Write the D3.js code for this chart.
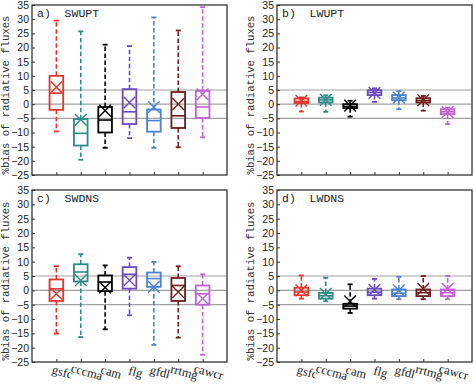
<!DOCTYPE html>
<html><head><meta charset="utf-8">
<script src="https://cdn.jsdelivr.net/npm/d3@7"></script>
<style>body{margin:0;background:#fff}svg{display:block}</style>
</head><body>
<script>
const categories = ["gsfc","cccma","cam","flg","gfdl","rrtmg","cawcr"];
const colors = ["#e5342b","#2c8a84","#000000","#6a4ac0","#4a82cc","#6e1c1c","#c35fd6"];
const yTicks = [-25,-20,-15,-10,-5,0,5,10,15,20,25,30,35];
const refLines = [-5,0,5];

// SWUPT
const swuptLow  = [-9.6,-19.6,-15.4,-12.0,-15.4,-15.2,-11.7];
const swuptQ1   = [-2.0,-14.6,-10.0,-7.0,-9.7,-8.4,-4.9];
const swuptMed  = [3.9,-10.3,-5.6,-2.7,-5.8,-4.1,-1.0];
const swuptQ3   = [10.0,-5.3,-1.0,5.3,-1.9,4.3,4.7];
const swuptHigh = [29.5,25.7,21.0,20.5,30.6,26.0,34.2];
const swuptMean = [6.0,-5.5,-2.3,0.6,-1.0,0.0,3.5];
// LWUPT
const lwuptLow  = [-2.6,-2.7,-4.4,0.8,-1.8,-2.3,-7.0];
const lwuptQ1   = [0.4,0.6,-1.4,3.2,1.4,0.6,-3.5];
const lwuptMed  = [1.0,1.5,-0.8,4.1,2.2,1.3,-2.7];
const lwuptQ3   = [2.0,2.3,0.0,4.9,3.2,2.1,-1.8];
const lwuptHigh = [2.4,3.1,1.2,5.6,4.6,2.9,-1.2];
const lwuptMean = [1.2,1.5,-0.5,4.0,2.3,1.4,-2.8];
// SWDNS
const swdnsLow  = [-15.1,-16.3,-13.6,-8.7,-19.0,-16.5,-22.5];
const swdnsQ1   = [-3.7,3.1,-0.3,0.6,1.2,-3.7,-5.0];
const swdnsMed  = [0.5,6.4,2.9,5.6,4.1,1.7,-1.2];
const swdnsQ3   = [3.8,9.1,5.2,8.1,6.2,4.3,1.7];
const swdnsHigh = [8.4,12.6,8.7,11.4,9.9,8.4,5.6];
const swdnsMean = [-1.2,3.5,1.0,3.5,1.2,-0.6,-2.9];
// LWDNS
const lwdnsLow  = [-2.9,-3.8,-7.9,-2.9,-3.1,-3.1,-3.1];
const lwdnsQ1   = [-1.7,-2.9,-6.4,-1.7,-2.0,-2.0,-2.0];
const lwdnsMed  = [-0.6,-1.9,-5.5,-0.7,-1.0,-0.8,-0.8];
const lwdnsQ3   = [0.9,-0.9,-4.7,0.6,0.3,0.3,0.3];
const lwdnsHigh = [5.2,4.4,2.1,4.0,4.7,5.0,5.0];
const lwdnsMean = [0.0,-1.2,-3.8,0.2,0.0,0.5,0.5];

const panels = [
  {tag:"a)", name:"SWUPT", low:swuptLow,q1:swuptQ1,med:swuptMed,q3:swuptQ3,high:swuptHigh,mean:swuptMean, x0:32,x1:227,y0:5,y1:175, xlab:false},
  {tag:"b)", name:"LWUPT", low:lwuptLow,q1:lwuptQ1,med:lwuptMed,q3:lwuptQ3,high:lwuptHigh,mean:lwuptMean, x0:277,x1:472,y0:5,y1:175, xlab:false},
  {tag:"c)", name:"SWDNS", low:swdnsLow,q1:swdnsQ1,med:swdnsMed,q3:swdnsQ3,high:swdnsHigh,mean:swdnsMean, x0:32,x1:227,y0:190,y1:362, xlab:true},
  {tag:"d)", name:"LWDNS", low:lwdnsLow,q1:lwdnsQ1,med:lwdnsMed,q3:lwdnsQ3,high:lwdnsHigh,mean:lwdnsMean, x0:277,x1:472,y0:190,y1:362, xlab:true}
];

const W = 474, H = 384;
const svg = d3.select("body").append("svg").attr("width",W).attr("height",H);

panels.forEach(p => {
  const x = d3.scalePoint().domain(categories).range([p.x0,p.x1]).padding(1);
  const y = d3.scaleLinear().domain([-25,35]).range([p.y1,p.y0]);
  const g = svg.append("g");
  const bw = x.step()*0.56;

  g.selectAll(".ref").data(refLines).join("line")
    .attr("x1",p.x0).attr("x2",p.x1).attr("y1",d=>y(d)).attr("y2",d=>y(d))
    .attr("stroke","#a0a0a0").attr("stroke-width",1.2);

  const ya = g.append("g").attr("transform",`translate(${p.x0},0)`)
    .call(d3.axisLeft(y).tickValues(yTicks).tickSizeInner(-3).tickSizeOuter(0).tickPadding(3)
      .tickFormat(d => d<0 ? "\u2212"+Math.abs(d) : d));
  ya.select(".domain").remove();
  ya.selectAll("line").attr("stroke","#333");
  ya.selectAll("text").attr("font-family","Liberation Sans Narrow, Liberation Sans, Arial, sans-serif")
    .attr("font-size",10.5).attr("fill","#222");

  const xa = g.append("g").attr("transform",`translate(0,${p.y1})`)
    .call(d3.axisBottom(x).tickSizeInner(-3).tickSizeOuter(0).tickFormat(""));
  xa.select(".domain").remove();
  xa.selectAll("line").attr("stroke","#333");

  g.append("rect").attr("x",p.x0).attr("y",p.y0).attr("width",p.x1-p.x0).attr("height",p.y1-p.y0)
    .attr("fill","none").attr("stroke","#333").attr("stroke-width",1.3);

  categories.forEach((c,i) => {
    const cx = x(c), col = colors[i];
    const bg = g.append("g").attr("stroke",col).attr("fill","none");
    bg.append("line").attr("x1",cx).attr("x2",cx).attr("y1",y(p.q3[i])).attr("y2",y(p.high[i]))
      .attr("stroke-width",1.6).attr("stroke-dasharray","4.5,2.5");
    bg.append("line").attr("x1",cx).attr("x2",cx).attr("y1",y(p.q1[i])).attr("y2",y(p.low[i]))
      .attr("stroke-width",1.6).attr("stroke-dasharray","4.5,2.5");
    [p.high[i],p.low[i]].forEach(v => bg.append("line").attr("x1",cx-2.5).attr("x2",cx+2.5)
      .attr("y1",y(v)).attr("y2",y(v)).attr("stroke-width",1.8));
    bg.append("rect").attr("x",cx-bw/2).attr("width",bw).attr("y",y(p.q3[i])).attr("height",y(p.q1[i])-y(p.q3[i]))
      .attr("stroke-width",1.8);
    bg.append("line").attr("x1",cx-bw/2).attr("x2",cx+bw/2).attr("y1",y(p.med[i])).attr("y2",y(p.med[i]))
      .attr("stroke-width",1.6);
    const m = y(p.mean[i]), s = bw/2-1;
    bg.append("path").attr("d",`M${cx-s},${m-s}L${cx+s},${m+s}M${cx-s},${m+s}L${cx+s},${m-s}`).attr("stroke-width",1.4);
  });

  g.append("text").attr("x",p.x0+5).attr("y",p.y0+12)
    .attr("font-family","Liberation Mono, Courier New, monospace").attr("font-size",11.5).attr("fill","#222")
    .attr("xml:space","preserve").text(p.tag+"  "+p.name);

  g.append("text").attr("transform",`translate(${p.x0-23},${(p.y0+p.y1)/2+5}) rotate(-90)`)
    .attr("text-anchor","middle").attr("font-family","Liberation Mono, Courier New, monospace")
    .attr("font-size",10.6).attr("fill","#333").text("%bias of radiative fluxes");

  if (p.xlab) {
    categories.forEach(c => {
      g.append("text").attr("transform",`translate(${x(c)+5},${p.y1+14}) rotate(15)`)
        .attr("text-anchor","middle").attr("font-family","Liberation Serif, Times New Roman, serif")
        .attr("font-size",12.5).attr("fill","#222").text(c);
    });
  }
});
</script>
</body></html>
